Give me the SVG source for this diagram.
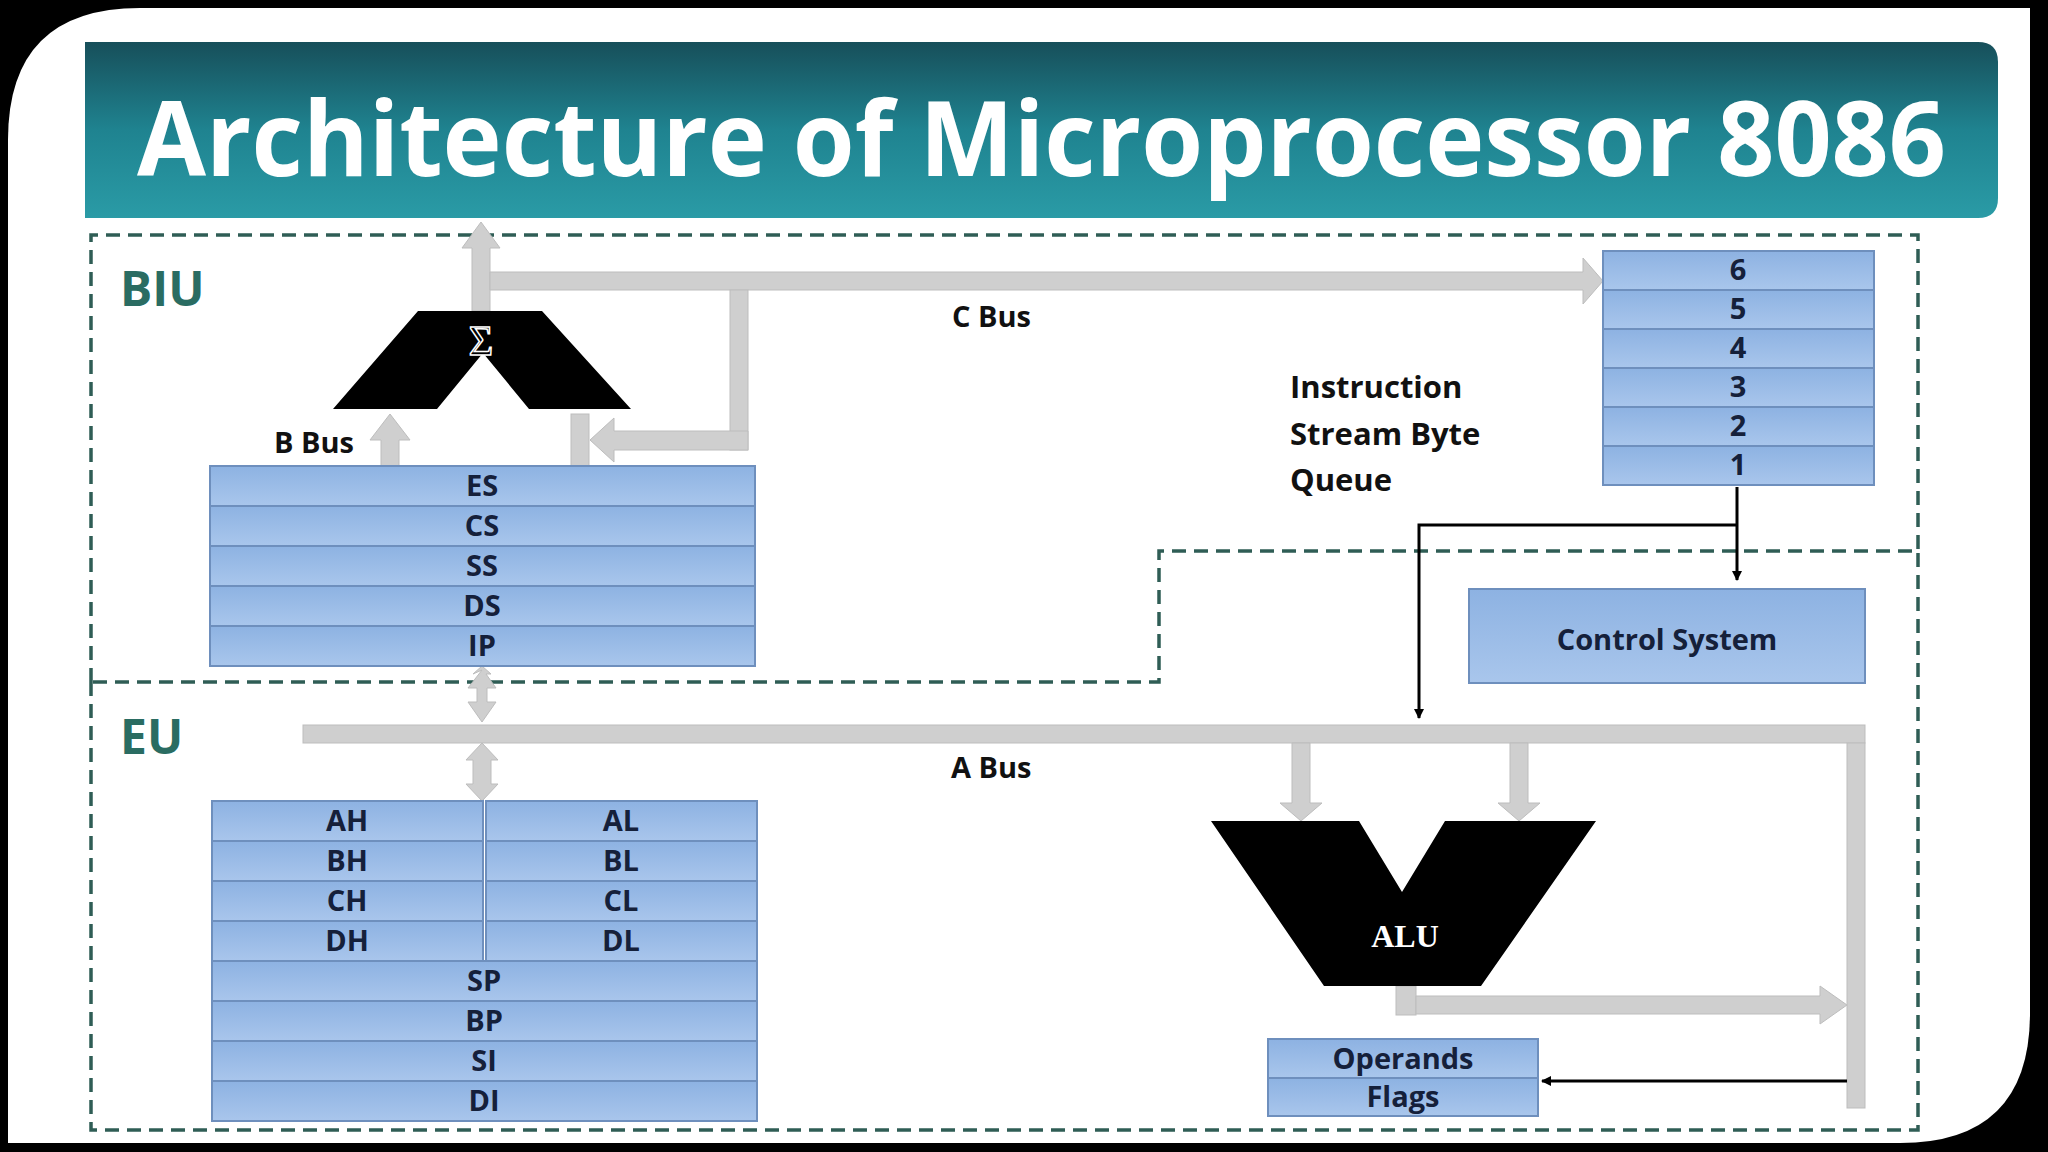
<svg xmlns="http://www.w3.org/2000/svg" width="2048" height="1152" viewBox="0 0 2048 1152">
<defs>
<linearGradient id="teal" x1="0" y1="0" x2="0" y2="1"><stop offset="0" stop-color="#174f5a"/><stop offset="0.5" stop-color="#1f8390"/><stop offset="1" stop-color="#2a9ba6"/></linearGradient>
<linearGradient id="blue" x1="0" y1="0" x2="0" y2="1"><stop offset="0" stop-color="#8db2e2"/><stop offset="1" stop-color="#a9c6ec"/></linearGradient>
<marker id="ah" markerWidth="10" markerHeight="10" refX="9" refY="5" orient="auto" markerUnits="userSpaceOnUse"><path d="M0,0 L10,5 L0,10 z" fill="#000"/></marker>
</defs>
<style>
.reg{fill:url(#blue);stroke:#6e8fbd;stroke-width:2}
.t{font-family:"Open Sans","Liberation Sans",sans-serif;font-weight:bold;fill:#111}
.rt{font-family:"Open Sans","Liberation Sans",sans-serif;font-weight:bold;fill:#15203a;font-size:29px;text-anchor:middle}
.dash{fill:none;stroke:#2f5d55;stroke-width:3.5;stroke-dasharray:14 8}
.bus{fill:#cfcfcf;stroke:#bdbdbd;stroke-width:1}
.wire{fill:none;stroke:#000;stroke-width:3}
</style>
<rect width="2048" height="1152" fill="#000"/>
<path d="M140,8 H2030 V1013 Q2030,1143 1900,1143 H8 V140 Q8,8 140,8 z" fill="#fff"/>
<path d="M85,42 H1978 Q1998,42 1998,62 V198 Q1998,218 1978,218 H85 z" fill="url(#teal)"/>
<text x="137" y="176" font-family="Open Sans,Liberation Sans,sans-serif" font-weight="bold" font-size="104" fill="#fff" textLength="1809" lengthAdjust="spacingAndGlyphs">Architecture of Microprocessor 8086</text>

<g id="regions">
<path class="dash" d="M91,682 V235 H1918 V551 H1159 V682 H91"/>
<path class="dash" d="M91,682 V1130 H1918 V551"/>
<text x="120" y="306" font-family="Open Sans,Liberation Sans,sans-serif" font-weight="bold" font-size="48" fill="#2a6c62">BIU</text>
<text x="120" y="754" font-family="Open Sans,Liberation Sans,sans-serif" font-weight="bold" font-size="48" fill="#2a6c62">EU</text>
</g>

<g id="connectors">
<path class="bus" d="M472,311 V248 H462 L481,222 L500,248 H490 V311 z"/>
<path class="bus" d="M490,272 H1583 V258 L1603,281 L1583,304 V290 H490 z"/>
<rect class="bus" x="730" y="290" width="18" height="160"/>
<path class="bus" d="M748,431 H614 V418 L590,440 L614,462 V450 H748 z"/>
<rect class="bus" x="571" y="414" width="18" height="52"/>
<path class="bus" d="M381,466 V440 H370 L390,414 L410,440 H399 V466 z"/>
<path class="bus" d="M473,674 L482,666 L491,674 H486 L496,688 H487 V702 L496,702 L482,722 L468,702 H477 V688 H468 L482,670 z"/>
<path class="bus" d="M482,743 L498,760 H491 V784 H498 L482,801 L466,784 H473 V760 H466 z"/>
<rect class="bus" x="303" y="725" width="1562" height="18"/>
<rect class="bus" x="1847" y="743" width="18" height="365"/>
<path class="bus" d="M1292,743 H1310 V803 H1322 L1301,821 L1280,803 H1292 z"/>
<path class="bus" d="M1510,743 H1528 V803 H1540 L1519,821 L1498,803 H1510 z"/>
<rect class="bus" x="1396" y="986" width="20" height="29"/>
<path class="bus" d="M1416,996 H1820 V986 L1847,1005 L1820,1024 V1014 H1416 z"/>
<path class="wire" d="M1737,487 V580" marker-end="url(#ah)"/>
<path class="wire" d="M1737,525 H1419 V718" marker-end="url(#ah)"/>
<path class="wire" d="M1847,1081 H1542" marker-end="url(#ah)"/>
<text class="t" x="274" y="453" font-size="29">B Bus</text>
<text class="t" x="952" y="327" font-size="29">C Bus</text>
<text class="t" x="951" y="778" font-size="29">A Bus</text>
</g>

<g id="adder">
<path d="M418,311 H542 L631,409 H529 L483,353 L437,409 H333 z" fill="#000"/>
<text x="481" y="355" font-family="Liberation Serif,serif" font-size="42" fill="#000" stroke="#fff" stroke-width="1.5" text-anchor="middle">Σ</text>
</g>

<g id="segment-registers">
<rect class="reg" x="210" y="466" width="545" height="40"/><text class="rt" x="482" y="496">ES</text>
<rect class="reg" x="210" y="506" width="545" height="40"/><text class="rt" x="482" y="536">CS</text>
<rect class="reg" x="210" y="546" width="545" height="40"/><text class="rt" x="482" y="576">SS</text>
<rect class="reg" x="210" y="586" width="545" height="40"/><text class="rt" x="482" y="616">DS</text>
<rect class="reg" x="210" y="626" width="545" height="40"/><text class="rt" x="482" y="656">IP</text>
</g>

<g id="queue">
<rect class="reg" x="1603" y="251" width="271" height="39"/><text class="rt" x="1738" y="280">6</text>
<rect class="reg" x="1603" y="290" width="271" height="39"/><text class="rt" x="1738" y="319">5</text>
<rect class="reg" x="1603" y="329" width="271" height="39"/><text class="rt" x="1738" y="358">4</text>
<rect class="reg" x="1603" y="368" width="271" height="39"/><text class="rt" x="1738" y="397">3</text>
<rect class="reg" x="1603" y="407" width="271" height="39"/><text class="rt" x="1738" y="436">2</text>
<rect class="reg" x="1603" y="446" width="271" height="39"/><text class="rt" x="1738" y="475">1</text>
<text class="t" x="1290" y="398" font-size="31">Instruction</text>
<text class="t" x="1290" y="445" font-size="31">Stream Byte</text>
<text class="t" x="1290" y="491" font-size="31">Queue</text>
</g>

<g id="control-system">
<rect class="reg" x="1469" y="589" width="396" height="94"/>
<text class="rt" x="1667" y="650" font-size="38">Control System</text>
</g>

<g id="gp-registers">
<rect class="reg" x="212" y="801" width="271" height="40"/><text class="rt" x="347" y="831">AH</text>
<rect class="reg" x="486" y="801" width="271" height="40"/><text class="rt" x="621" y="831">AL</text>
<rect class="reg" x="212" y="841" width="271" height="40"/><text class="rt" x="347" y="871">BH</text>
<rect class="reg" x="486" y="841" width="271" height="40"/><text class="rt" x="621" y="871">BL</text>
<rect class="reg" x="212" y="881" width="271" height="40"/><text class="rt" x="347" y="911">CH</text>
<rect class="reg" x="486" y="881" width="271" height="40"/><text class="rt" x="621" y="911">CL</text>
<rect class="reg" x="212" y="921" width="271" height="40"/><text class="rt" x="347" y="951">DH</text>
<rect class="reg" x="486" y="921" width="271" height="40"/><text class="rt" x="621" y="951">DL</text>
<rect class="reg" x="212" y="961" width="545" height="40"/><text class="rt" x="484" y="991">SP</text>
<rect class="reg" x="212" y="1001" width="545" height="40"/><text class="rt" x="484" y="1031">BP</text>
<rect class="reg" x="212" y="1041" width="545" height="40"/><text class="rt" x="484" y="1071">SI</text>
<rect class="reg" x="212" y="1081" width="545" height="40"/><text class="rt" x="484" y="1111">DI</text>
</g>

<g id="alu">
<path d="M1211,821 H1359 L1402,892 L1445,821 H1596 L1481,986 H1324 z" fill="#000"/>
<text x="1405" y="947" font-family="Liberation Serif,serif" font-weight="bold" font-size="32" fill="#fff" text-anchor="middle">ALU</text>
</g>

<g id="operands-flags">
<rect class="reg" x="1268" y="1039" width="270" height="39"/><text class="rt" x="1403" y="1069">Operands</text>
<rect class="reg" x="1268" y="1078" width="270" height="38"/><text class="rt" x="1403" y="1107">Flags</text>
</g>
</svg>
